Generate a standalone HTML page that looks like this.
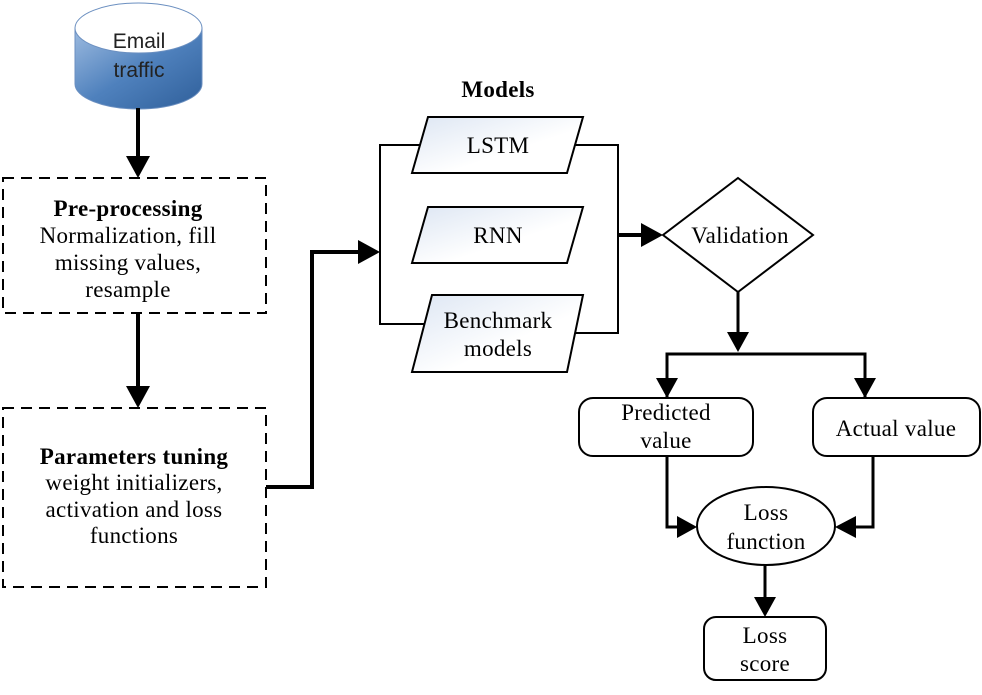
<!DOCTYPE html>
<html><head><meta charset="utf-8"><style>
html,body{margin:0;padding:0;background:#fff;}
svg text{font-family:"Liberation Serif",serif;font-size:23px;letter-spacing:0.3px;fill:#000;}
</style></head><body>
<svg width="982" height="690" viewBox="0 0 982 690" xmlns="http://www.w3.org/2000/svg">
<defs>
<linearGradient id="cyl" x1="0" y1="0" x2="1" y2="1">
<stop offset="0" stop-color="#9dbbe0"/><stop offset="0.5" stop-color="#4f81bd"/><stop offset="1" stop-color="#2f5f9a"/>
</linearGradient>
<linearGradient id="par" x1="0" y1="0" x2="1" y2="1">
<stop offset="0" stop-color="#dde6f3"/><stop offset="0.6" stop-color="#ffffff"/>
</linearGradient>
</defs>
<path d="M75,28 L75,84 A63.5,25 0 0 0 202,84 L202,28 Z" fill="url(#cyl)" stroke="#6b8fc0" stroke-width="1"/>
<ellipse cx="138.5" cy="28" rx="63.5" ry="25" fill="#fff" stroke="#6b8fc0" stroke-width="1"/>
<text x="139" y="48" text-anchor="middle" style="font-family:'Liberation Sans',sans-serif;font-size:21px;letter-spacing:0;fill:#222">Email</text>
<text x="139" y="77" text-anchor="middle" style="font-family:'Liberation Sans',sans-serif;font-size:21px;letter-spacing:0;fill:#222">traffic</text>
<line x1="138" y1="108" x2="138" y2="160" stroke="#000" stroke-width="4"/>
<polygon points="126,156 150,156 138,178" fill="#000"/>
<rect x="3" y="178" width="263" height="135" fill="none" stroke="#000" stroke-width="2" stroke-dasharray="11,7"/>
<text x="128" y="216" text-anchor="middle" font-weight="bold">Pre-processing</text>
<text x="128" y="243" text-anchor="middle">Normalization, fill</text>
<text x="128" y="270" text-anchor="middle">missing values,</text>
<text x="128" y="297" text-anchor="middle">resample</text>
<line x1="138" y1="313" x2="138" y2="390" stroke="#000" stroke-width="4"/>
<polygon points="126,386 150,386 138,408" fill="#000"/>
<rect x="3" y="408" width="263" height="179" fill="none" stroke="#000" stroke-width="2" stroke-dasharray="11,7"/>
<text x="134" y="464" text-anchor="middle" font-weight="bold">Parameters tuning</text>
<text x="134" y="490" text-anchor="middle">weight initializers,</text>
<text x="134" y="517" text-anchor="middle">activation and loss</text>
<text x="134" y="543" text-anchor="middle">functions</text>
<polyline points="266,487 312,487 312,252 364,252" fill="none" stroke="#000" stroke-width="4"/>
<polygon points="358,240 358,264 380,252" fill="#000"/>
<text x="498" y="97" text-anchor="middle" font-weight="bold">Models</text>
<polyline points="420,145 380,145 380,324 425,324" fill="none" stroke="#000" stroke-width="2"/>
<polyline points="575,145 618,145 618,333 575,333" fill="none" stroke="#000" stroke-width="2"/>
<polygon points="428,117 583,117 567,173 412,173" fill="url(#par)" stroke="#000" stroke-width="2"/>
<text x="498" y="153" text-anchor="middle">LSTM</text>
<polygon points="428,207 583,207 567,263 412,263" fill="url(#par)" stroke="#000" stroke-width="2"/>
<text x="498" y="243" text-anchor="middle">RNN</text>
<polygon points="432,295 583,295 567,372 412,372" fill="url(#par)" stroke="#000" stroke-width="2"/>
<text x="498" y="328" text-anchor="middle">Benchmark</text>
<text x="498" y="356" text-anchor="middle">models</text>
<line x1="618" y1="235" x2="645" y2="235" stroke="#000" stroke-width="4"/>
<polygon points="641,223 641,247 663,235" fill="#000"/>
<polygon points="738,178 813,235 738,292 663,235" fill="#fff" stroke="#000" stroke-width="2"/>
<text x="740" y="243" text-anchor="middle">Validation</text>
<line x1="738" y1="292" x2="738" y2="335" stroke="#000" stroke-width="3"/>
<polygon points="727,332 749,332 738,352" fill="#000"/>
<polyline points="667,398 667,354 865,354 865,398" fill="none" stroke="#000" stroke-width="3"/>
<polygon points="656,378 678,378 667,398" fill="#000"/>
<polygon points="854,378 876,378 865,398" fill="#000"/>
<rect x="579" y="398" width="174" height="58" rx="14" fill="#fff" stroke="#000" stroke-width="2"/>
<text x="666" y="420" text-anchor="middle">Predicted</text>
<text x="666" y="448" text-anchor="middle">value</text>
<rect x="813" y="398" width="167" height="58" rx="14" fill="#fff" stroke="#000" stroke-width="2"/>
<text x="896" y="436" text-anchor="middle">Actual  value</text>
<polyline points="667,456 667,527 680,527" fill="none" stroke="#000" stroke-width="3"/>
<polygon points="677,516 677,538 697,527" fill="#000"/>
<polyline points="873,456 873,527 852,527" fill="none" stroke="#000" stroke-width="3"/>
<polygon points="856,516 856,538 835,527" fill="#000"/>
<ellipse cx="766" cy="526" rx="69" ry="39" fill="#fff" stroke="#000" stroke-width="2"/>
<text x="766" y="520" text-anchor="middle">Loss</text>
<text x="766" y="549" text-anchor="middle">function</text>
<line x1="765" y1="565" x2="765" y2="600" stroke="#000" stroke-width="3"/>
<polygon points="754,597 776,597 765,617" fill="#000"/>
<rect x="704" y="617" width="122" height="63" rx="12" fill="#fff" stroke="#000" stroke-width="2"/>
<text x="765" y="643" text-anchor="middle">Loss</text>
<text x="765" y="671" text-anchor="middle">score</text>
</svg>
</body></html>
